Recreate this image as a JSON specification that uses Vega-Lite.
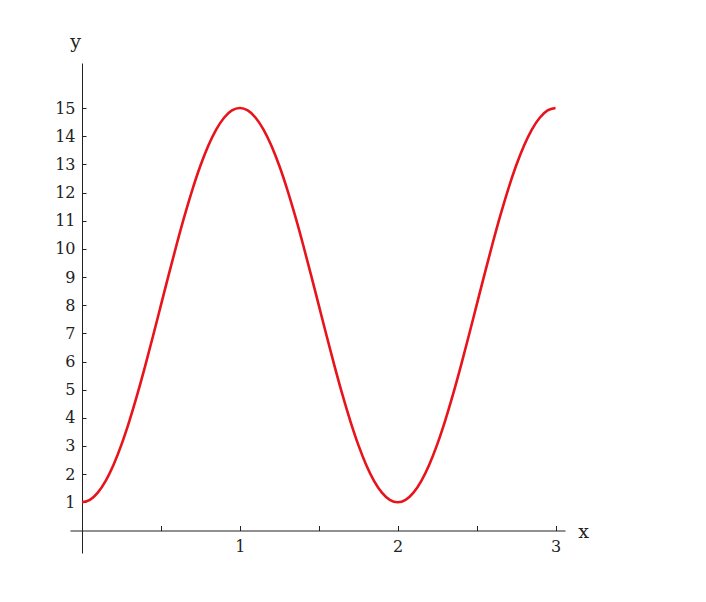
{
  "$schema": "https://vega.github.io/schema/vega-lite/v6.json",
  "width": 495,
  "height": 490,
  "autosize": "none",
  "padding": {"left": 70, "top": 63, "right": 141, "bottom": 49},
  "config": {
    "view": {"stroke": null},
    "font": "DejaVu Serif",
    "axis": {
      "grid": false,
      "domainColor": "#222",
      "tickColor": "#222",
      "labelColor": "#222",
      "titleColor": "#222",
      "labelFont": "DejaVu Serif",
      "titleFont": "DejaVu Serif",
      "labelFontSize": 16,
      "titleFontSize": 19,
      "titleFontWeight": "normal"
    }
  },
  "data": {
    "values": [
      {"x": 0.00, "y": 1.000}, {"x": 0.05, "y": 1.086}, {"x": 0.10, "y": 1.343}, {"x": 0.15, "y": 1.763},
      {"x": 0.20, "y": 2.337}, {"x": 0.25, "y": 3.050}, {"x": 0.30, "y": 3.885}, {"x": 0.35, "y": 4.822},
      {"x": 0.40, "y": 5.837}, {"x": 0.45, "y": 6.905}, {"x": 0.50, "y": 8.000}, {"x": 0.55, "y": 9.095},
      {"x": 0.60, "y": 10.163}, {"x": 0.65, "y": 11.178}, {"x": 0.70, "y": 12.115}, {"x": 0.75, "y": 12.950},
      {"x": 0.80, "y": 13.663}, {"x": 0.85, "y": 14.237}, {"x": 0.90, "y": 14.657}, {"x": 0.95, "y": 14.914},
      {"x": 1.00, "y": 15.000}, {"x": 1.05, "y": 14.914}, {"x": 1.10, "y": 14.657}, {"x": 1.15, "y": 14.237},
      {"x": 1.20, "y": 13.663}, {"x": 1.25, "y": 12.950}, {"x": 1.30, "y": 12.115}, {"x": 1.35, "y": 11.178},
      {"x": 1.40, "y": 10.163}, {"x": 1.45, "y": 9.095}, {"x": 1.50, "y": 8.000}, {"x": 1.55, "y": 6.905},
      {"x": 1.60, "y": 5.837}, {"x": 1.65, "y": 4.822}, {"x": 1.70, "y": 3.885}, {"x": 1.75, "y": 3.050},
      {"x": 1.80, "y": 2.337}, {"x": 1.85, "y": 1.763}, {"x": 1.90, "y": 1.343}, {"x": 1.95, "y": 1.086},
      {"x": 2.00, "y": 1.000}, {"x": 2.05, "y": 1.086}, {"x": 2.10, "y": 1.343}, {"x": 2.15, "y": 1.763},
      {"x": 2.20, "y": 2.337}, {"x": 2.25, "y": 3.050}, {"x": 2.30, "y": 3.885}, {"x": 2.35, "y": 4.822},
      {"x": 2.40, "y": 5.837}, {"x": 2.45, "y": 6.905}, {"x": 2.50, "y": 8.000}, {"x": 2.55, "y": 9.095},
      {"x": 2.60, "y": 10.163}, {"x": 2.65, "y": 11.178}, {"x": 2.70, "y": 12.115}, {"x": 2.75, "y": 12.950},
      {"x": 2.80, "y": 13.663}, {"x": 2.85, "y": 14.237}, {"x": 2.90, "y": 14.657}, {"x": 2.95, "y": 14.914},
      {"x": 3.00, "y": 15.000}
    ]
  },
  "mark": {"type": "line", "color": "#e8141b", "strokeWidth": 2.6, "interpolate": "monotone", "clip": false},
  "encoding": {
    "x": {
      "field": "x",
      "type": "quantitative",
      "scale": {"domain": [-0.076, 3.06], "nice": false, "zero": false},
      "axis": {
        "orient": "bottom",
        "offset": -22.5,
        "values": [0.5, 1, 1.5, 2, 2.5, 3],
        "labelExpr": "datum.value % 1 === 0 ? format(datum.value, 'd') : ''",
        "tickSize": -5,
        "labelPadding": 13,
        "title": "x",
        "titleX": 513,
        "titleY": 1,
        "titleAlign": "center",
        "titleBaseline": "middle"
      }
    },
    "y": {
      "field": "y",
      "type": "quantitative",
      "scale": {"domain": [-0.8, 16.6], "nice": false, "zero": false},
      "axis": {
        "orient": "left",
        "offset": -12,
        "values": [1, 2, 3, 4, 5, 6, 7, 8, 9, 10, 11, 12, 13, 14, 15],
        "tickSize": -4,
        "labelPadding": 11,
        "title": "y",
        "titleAngle": 0,
        "titleX": -7,
        "titleY": -22,
        "titleAlign": "center",
        "titleBaseline": "middle"
      }
    }
  }
}
